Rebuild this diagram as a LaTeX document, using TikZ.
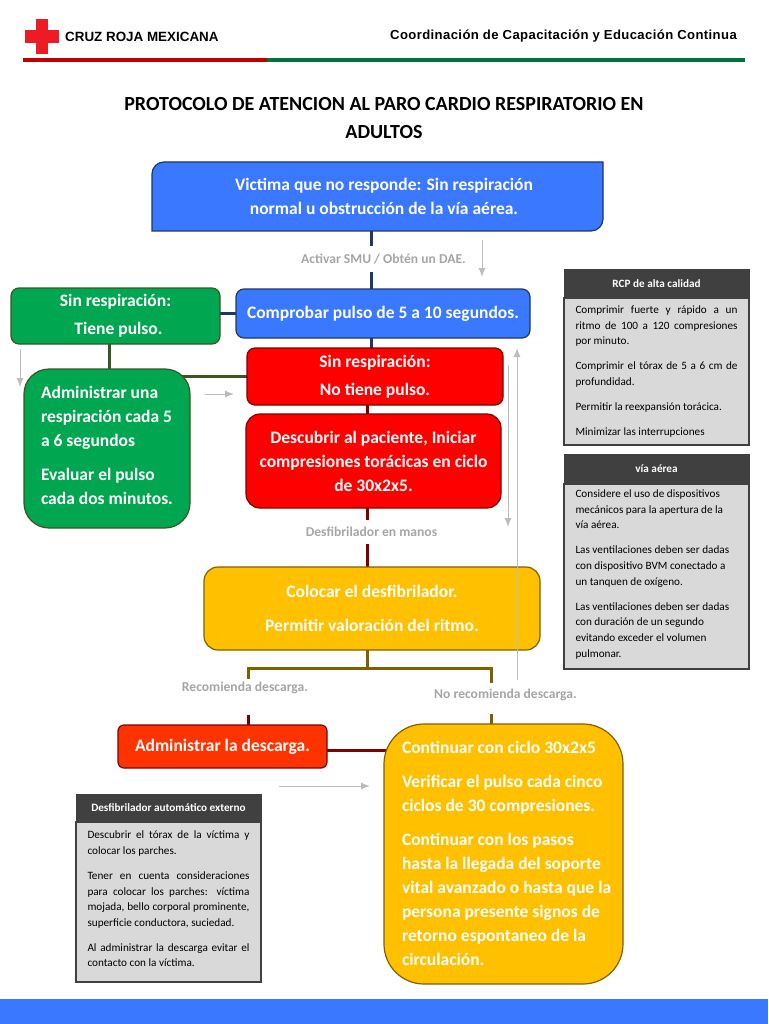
\documentclass[tikz,border=0pt]{standalone}
\usepackage{fontspec}
\setmainfont{Carlito}
\newfontfamily\logofont{Liberation Sans}
\newfontfamily\coordfont[LetterSpace=3]{Liberation Sans}
\usetikzlibrary{arrows.meta,positioning,backgrounds}

\definecolor{vblue}{HTML}{3A78FF}
\definecolor{navyline}{HTML}{1F3864}
\definecolor{vgreen}{HTML}{00A650}
\definecolor{greenline}{HTML}{385723}
\definecolor{darkred}{HTML}{7F0000}
\definecolor{vgold}{HTML}{FFC000}
\definecolor{goldline}{HTML}{7F6000}
\definecolor{vorange}{HTML}{FF3300}
\definecolor{softgray}{HTML}{A6A6A6}
\definecolor{panelgray}{HTML}{D9D9D9}
\definecolor{paneldark}{HTML}{404040}
\definecolor{crossred}{HTML}{ED1C24}
\definecolor{rulered}{HTML}{C00000}
\definecolor{rulegreen}{HTML}{00703C}

\newcommand{\jline}[1]{\makebox[\hsize][s]{#1}}
\newcommand{\lift}[1]{\rule[-#1pt]{0pt}{#1pt}}

\tikzset{
  flowbox/.style={inner sep=0pt, outer sep=0pt, line width=1.2pt, text=white, align=center,
    font=\fontsize{17.5}{24}\selectfont\bfseries},
  bluebox/.style={flowbox, draw=navyline, fill=vblue, rounded corners=8pt},
  greenbox/.style={flowbox, draw=greenline, fill=vgreen},
  redbox/.style={flowbox, draw=darkred, fill=red},
  goldbox/.style={flowbox, draw=goldline, fill=vgold},
  softlabel/.style={fill=white, inner xsep=0pt, text=softgray, font=\fontsize{13.6}{15}\selectfont\bfseries},
  softarrow/.style={draw=softgray!75, line width=1pt, -{Latex[length=9pt, width=7pt]}},
  link/.style={line width=3pt},
  panelhead/.style={draw=paneldark, fill=paneldark, outer sep=0pt, inner sep=0pt, text=white,
    minimum width=185pt, font=\fontsize{11.2}{12}\selectfont\bfseries},
  panelbody/.style={draw=paneldark, line width=1.4pt, fill=panelgray, outer sep=0pt, inner sep=0pt,
    text width=162pt, align=flush left, font=\fontsize{11.2}{15.6}\selectfont}
}

\begin{document}
\begin{tikzpicture}[x=1pt, y=-1pt]
  \useasboundingbox (0,0) rectangle (768,1024);

  % header
  \fill[crossred] (36,19) rectangle (48,54);
  \fill[crossred] (25,30) rectangle (59,43);
  \node[anchor=west, inner sep=0pt, font=\logofont\fontsize{13.4}{15}\selectfont\bfseries] (logotext) at (65,37) {CRUZ ROJA MEXICANA};
  \node[anchor=east, inner sep=0pt, font=\coordfont\fontsize{13.1}{15}\selectfont\bfseries] (coordtext) at (737,36) {Coordinación de Capacitación y Educación Continua};
  \fill[rulered] (23,58) rectangle (267,62);
  \fill[rulegreen] (267,58) rectangle (745,62);

  % title
  \node[align=center, font=\fontsize{20}{28}\selectfont\bfseries] (title) at (384,118) {PROTOCOLO DE ATENCION AL PARO CARDIO RESPIRATORIO EN\\ADULTOS};

  % flow boxes
  \node[flowbox, minimum width=451pt, minimum height=69pt] (victima) at (377.5,196.5)
    {\hspace*{13pt}Victima que no responde: Sin respiración\\\hspace*{13pt}normal u obstrucción de la vía aérea.};
  \node[bluebox, minimum width=294pt, minimum height=49pt] (comprobar) at (383,313.5) {Comprobar pulso de 5 a 10 segundos.};
  \node[greenbox, rounded corners=8pt, minimum width=209pt, minimum height=56pt] (conpulso) at (115.5,316)
    {Sin respiración:\\[4pt]\hspace*{6pt}Tiene pulso.};
  \node[greenbox, rounded corners=25pt, minimum width=166pt, minimum height=159pt, text width=132pt, align=flush left] (ventila) at (107,448.5)
    {Administrar una\\respiración cada 5\\a 6 segundos\\[10pt]Evaluar el pulso\\cada dos minutos.\lift{6}};
  \node[redbox, rounded corners=8pt, minimum width=256pt, minimum height=57pt] (sinpulso) at (375,376.5)
    {Sin respiración:\\[4pt]No tiene pulso.};
  \node[redbox, rounded corners=14pt, minimum width=255pt, minimum height=94pt] (compresion) at (373.5,461)
    {Descubrir al paciente, Iniciar\\compresiones torácicas en ciclo\\de 30x2x5.};
  \node[goldbox, rounded corners=14pt, minimum width=336pt, minimum height=83pt] (colocar) at (372,608.5)
    {Colocar el desfibrilador.\\[10pt]Permitir valoración del ritmo.};
  \node[flowbox, draw=darkred, fill=vorange, rounded corners=6pt, minimum width=209pt, minimum height=43pt] (descarga) at (222.5,746.5) {Administrar la descarga.};
  \node[goldbox, rounded corners=40pt, minimum width=239pt, minimum height=260pt, text width=203pt, align=flush left] (continuar) at (503.5,854)
    {Continuar con ciclo 30x2x5\\[10pt]Verificar el pulso cada cinco\\ciclos de 30 compresiones.\\[10pt]Continuar con los pasos\\hasta la llegada del soporte\\\leavevmode\rlap{vital avanzado o hasta que la}\\persona presente signos de\\retorno espontaneo de la\\circulación.\lift{2}};

  % labels on the lines
  \node[softlabel, minimum height=26pt] (activar) at (383.5,259) {Activar SMU / Obtén un DAE.};
  \node[softlabel, minimum height=24pt] (manos) at (371.5,532) {Desfibrilador en manos};
  \node[softlabel, inner ysep=2pt] (recomienda) at (245,688) {Recomienda descarga.};
  \node[softlabel, inner ysep=2pt] (norecomienda) at (505.5,695) {No recomienda descarga.};
  \coordinate (trunk) at (371,0);
  \coordinate (stem) at (367,0);
  \coordinate (forkbar) at (0,668);
  \coordinate (forkleft) at (248,677);
  \coordinate (forkright) at (491,681);
  \coordinate (stemleft) at (248,715);
  \coordinate (stemright) at (491,714);

  % connectors go behind the boxes and labels
  \begin{scope}[on background layer]
    \draw[draw=navyline, line width=1.2pt, fill=vblue]
      (victima.south west) [rounded corners=12pt] -- (victima.north west) [sharp corners] -- (victima.north east)
      [rounded corners=12pt] -- (victima.south east) [sharp corners] -- cycle;
    \draw[link, navyline] (victima.south -| trunk) -- (comprobar.north -| trunk);
    \draw[link, navyline] (comprobar.south -| trunk) -- (sinpulso.north -| trunk);
    \draw[link, navyline] (comprobar.west) -- (conpulso.east |- comprobar.west);
    \draw[link, greenline] ([xshift=2pt]ventila.north |- conpulso.south) -- ([xshift=2pt]ventila.north);
    \draw[link, greenline] (sinpulso.west) -- (ventila.center |- sinpulso.west);
    \draw[link, darkred] (sinpulso.south -| stem) -- (compresion.north -| stem);
    \draw[link, darkred] (compresion.south -| stem) -- (colocar.north -| stem);
    \draw[link, goldline] (colocar.south -| stem) -- (stem |- forkbar);
    \draw[link, goldline, line cap=rect] (forkleft) -- (forkleft |- forkbar) -- (forkright |- forkbar) -- (forkright);
    \draw[link, darkred] (stemleft) -- (descarga.north -| stemleft);
    \draw[link, goldline] (stemright) -- (continuar.north -| stemright);
    \draw[link, darkred] ([yshift=-3.5pt]descarga.east) -- ([yshift=-3.5pt]descarga.east -| continuar.center);
  \end{scope}

  % gray side arrows
  \coordinate (ar1) at (482,240); \coordinate (ar1e) at (482,277);
  \coordinate (ar2) at (20,349); \coordinate (ar2e) at (20,387);
  \coordinate (ar3) at (205,394); \coordinate (ar3e) at (234,394);
  \coordinate (ar4) at (517,680); \coordinate (ar4e) at (517,348);
  \coordinate (ar5) at (508,365); \coordinate (ar5e) at (508,527);
  \coordinate (ar6) at (279,786); \coordinate (ar6e) at (370,786);
  \foreach \a in {ar1,ar2,ar3,ar4,ar5,ar6}
    \draw[softarrow] (\a) -- (\a e);

  % side panels
  \node[panelhead, minimum height=29pt] (rcphead) at (656.5,283.5) {RCP de alta calidad};
  \node[panelbody, below=0pt of rcphead, minimum width=185pt, minimum height=147pt] (rcpbody)
    {\jline{Comprimir fuerte y rápido a un}\\\jline{ritmo de 100 a 120 compresiones}\\por minuto.\\[9.5pt]\jline{Comprimir el tórax de 5 a 6 cm de}\\profundidad.\\[9.5pt]Permitir la reexpansión torácica.\\[9.5pt]Minimizar las interrupciones};

  \node[panelhead, minimum height=30pt] (viahead) at (656.5,469) {vía aérea};
  \node[panelbody, below=0pt of viahead, minimum width=185pt, minimum height=185pt] (viabody)
    {Considere el uso de dispositivos\\mecánicos para la apertura de la\\vía aérea.\\[9.5pt]Las ventilaciones deben ser dadas\\con dispositivo BVM conectado a\\un tanquen de oxígeno.\\[9.5pt]Las ventilaciones deben ser dadas\\con duración de un segundo\\evitando exceder el volumen\\pulmonar.\lift{6}};

  \node[panelhead, minimum height=28pt] (daehead) at (168.5,808) {Desfibrilador automático externo};
  \node[panelbody, below=0pt of daehead, minimum width=185pt, minimum height=160pt] (daebody)
    {\jline{Descubrir el tórax de la víctima y}\\colocar los parches.\\[9.5pt]\jline{Tener en cuenta consideraciones}\\\jline{para colocar los parches: víctima}\\\jline{mojada, bello corporal prominente,}\\superficie conductora, suciedad.\\[9.5pt]\jline{Al administrar la descarga evitar el}\\contacto con la víctima.\lift{6}};

  % footer
  \fill[vblue] (0,999) rectangle (768,1024);
\end{tikzpicture}
\end{document}
